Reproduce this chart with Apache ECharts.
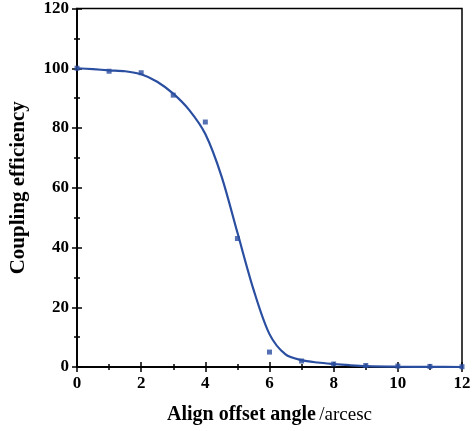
<!DOCTYPE html><html><head><meta charset="utf-8"><script src="https://cdn.jsdelivr.net/npm/echarts@6/dist/echarts.min.js"></script></head><body style="margin:0"><div id="c" style="width:474px;height:431px"></div><script>
const xMeas=[0,1,2,3,4,5,6,7,8,9,10,11,12];
const yMeas=[100,99,98.5,91,82,43,5,2,1,0.5,0.3,0.2,0.1];
const xFit=[0,0.5,1,1.5,2,2.5,3,3.5,4,4.5,5,5.5,6,6.5,7,7.5,8,8.5,9,10,11,12];
const yFit=[100,99.7,99.3,99,98,95.5,91.5,86,78,64,45,26,11,4.2,2.3,1.5,1,0.6,0.3,0.1,0.05,0];
const xTicks=[0,2,4,6,8,10,12];
const c=echarts.init(document.getElementById('c'));
const F='Liberation Serif';
const ax={axisLine:{show:true,lineStyle:{color:'#000',width:1.5}},axisTick:{inside:true,length:5,lineStyle:{color:'#000',width:1.5}},minorTick:{show:true,splitNumber:2,length:3,lineStyle:{color:'#000',width:1.5}},splitLine:{show:false}};
c.setOption({animation:false,grid:{left:75,right:12,top:8,bottom:64,show:true,borderColor:'#000',borderWidth:1.5},
xAxis:[Object.assign({type:'value',min:0,max:12,interval:2,name:'{b|Align offset angle} {n|/arcesc}',nameLocation:'middle',nameGap:38,nameTextStyle:{rich:{b:{fontFamily:F,fontWeight:'bold',fontSize:20,color:'#000'},n:{fontFamily:F,fontSize:19,color:'#000'}}},axisLabel:{fontFamily:F,fontWeight:'bold',fontSize:17,color:'#000',margin:8,formatter:v=>xTicks.includes(v)?v:''}},ax),
Object.assign({type:'value',position:'top',min:0,max:12,interval:2,axisLabel:{show:false}},ax)],
yAxis:[Object.assign({type:'value',min:0,max:120,interval:20,name:'Coupling efficiency',nameLocation:'middle',nameGap:48,nameTextStyle:{fontFamily:F,fontWeight:'bold',fontSize:21,color:'#000'},axisLabel:{fontFamily:F,fontWeight:'bold',fontSize:17,color:'#000',margin:8}},ax),
Object.assign({type:'value',position:'right',min:0,max:120,interval:20,axisLabel:{show:false}},ax)],
series:[{type:'line',smooth:0.3,showSymbol:false,data:xFit.map((x,i)=>[x,yFit[i]]),lineStyle:{color:'#2a4ea0',width:2.2}},
{type:'scatter',symbol:'rect',symbolSize:5,data:xMeas.map((x,i)=>[x,yMeas[i]]),itemStyle:{color:'#2a4ea0'}}]});
</script></body></html>
